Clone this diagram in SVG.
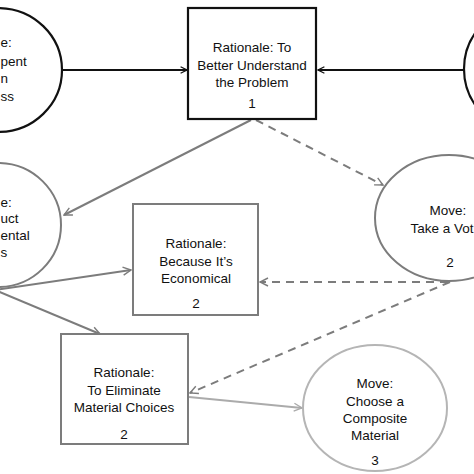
<svg xmlns="http://www.w3.org/2000/svg" width="474" height="474" viewBox="0 0 474 474">
<style>
text{font-family:"Liberation Sans",Arial,sans-serif;font-size:13.5px;fill:#111;}
.c{text-anchor:middle}
.s{text-anchor:start}
.e{text-anchor:end}
.blk{fill:#fff;stroke:#111;stroke-width:2.2}
.gry{fill:#fff;stroke:#7c7c7c;stroke-width:2}
.lgt{fill:#fff;stroke:#b5b5b5;stroke-width:2}
.lk{fill:none;stroke:#111;stroke-width:2}
.lg{fill:none;stroke:#7c7c7c;stroke-width:2}
.ld{fill:none;stroke:#7c7c7c;stroke-width:2;stroke-dasharray:8 6}
.ll{fill:none;stroke:#ababab;stroke-width:2}
</style>
<defs>
<marker id="ak" viewBox="0 0 10 10" refX="9" refY="5" markerWidth="8" markerHeight="8" markerUnits="userSpaceOnUse" orient="auto"><path d="M1,1 L9,5 L1,9" fill="none" stroke="#111" stroke-width="1.6"/></marker>
<marker id="ag" viewBox="0 0 10 10" refX="9" refY="5" markerWidth="10" markerHeight="10" markerUnits="userSpaceOnUse" orient="auto"><path d="M1,1 L9,5 L1,9" fill="none" stroke="#7c7c7c" stroke-width="1.4"/></marker>
<marker id="al" viewBox="0 0 10 10" refX="9" refY="5" markerWidth="10" markerHeight="10" markerUnits="userSpaceOnUse" orient="auto"><path d="M1,1 L9,5 L1,9" fill="none" stroke="#ababab" stroke-width="1.4"/></marker>
</defs>
<g id="connectors">
<line class="lk" x1="62" y1="70" x2="187" y2="70" marker-end="url(#ak)"/>
<line class="lk" x1="464" y1="70" x2="318" y2="70" marker-end="url(#ak)"/>
<line class="lg" x1="251" y1="120" x2="64" y2="215" marker-end="url(#ag)"/>
<line class="ld" x1="256" y1="120" x2="383" y2="185" marker-end="url(#ag)"/>
<line class="lg" x1="-5" y1="290" x2="131" y2="270" marker-end="url(#ag)"/>
<line class="lg" x1="-5" y1="290" x2="100" y2="334" marker-end="url(#ag)"/>
<line class="ld" x1="448" y1="282" x2="260" y2="282" marker-end="url(#ag)"/>
<line class="ld" x1="450" y1="282" x2="190" y2="393" marker-end="url(#ag)"/>
<line class="ll" x1="189" y1="397" x2="302" y2="408" marker-end="url(#al)"/>
</g>
<g id="node-move-left-top">
<ellipse class="blk" cx="-2" cy="70" rx="64" ry="62"/>
<text class="s" x="0.5" y="47">e:</text>
<text class="s" x="0.5" y="66">pent</text>
<text class="s" x="0.5" y="83">n</text>
<text class="s" x="0.5" y="101">ss</text>
</g>
<g id="node-rationale-1">
<rect class="blk" x="188" y="8" width="128" height="111"/>
<text class="c" x="252" y="52">Rationale: To</text>
<text class="c" x="252" y="70">Better Understand</text>
<text class="c" x="252" y="87">the Problem</text>
<text class="c" x="252" y="108">1</text>
</g>
<g id="node-move-right-top">
<ellipse class="blk" cx="525" cy="69" rx="61" ry="62"/>
</g>
<g id="node-move-left-mid">
<ellipse class="gry" cx="-2" cy="225" rx="63" ry="62"/>
<text class="s" x="0.5" y="207">e:</text>
<text class="s" x="0.5" y="223">uct</text>
<text class="s" x="0.5" y="240">ental</text>
<text class="s" x="0.5" y="257">s</text>
</g>
<g id="node-rationale-economical">
<rect class="gry" x="133" y="204" width="125" height="111"/>
<text class="c" x="196" y="248">Rationale:</text>
<text class="c" x="196" y="266">Because It’s</text>
<text class="c" x="196" y="283">Economical</text>
<text class="c" x="196" y="308">2</text>
</g>
<g id="node-move-vote">
<ellipse class="gry" cx="449" cy="218" rx="74" ry="63"/>
<text class="c" x="448" y="215">Move:</text>
<text class="e" x="473.5" y="233">Take a Vot</text>
<text class="c" x="450" y="267">2</text>
</g>
<g id="node-rationale-eliminate">
<rect class="gry" x="61" y="334" width="127" height="110"/>
<text class="c" x="124" y="377">Rationale:</text>
<text class="c" x="124" y="395">To Eliminate</text>
<text class="c" x="124" y="412">Material Choices</text>
<text class="c" x="124" y="439">2</text>
</g>
<g id="node-move-composite">
<ellipse class="lgt" cx="375" cy="408" rx="72" ry="63"/>
<text class="c" x="375" y="388">Move:</text>
<text class="c" x="375" y="406">Choose a</text>
<text class="c" x="375" y="423">Composite</text>
<text class="c" x="375" y="440">Material</text>
<text class="c" x="375" y="465">3</text>
</g>
</svg>
